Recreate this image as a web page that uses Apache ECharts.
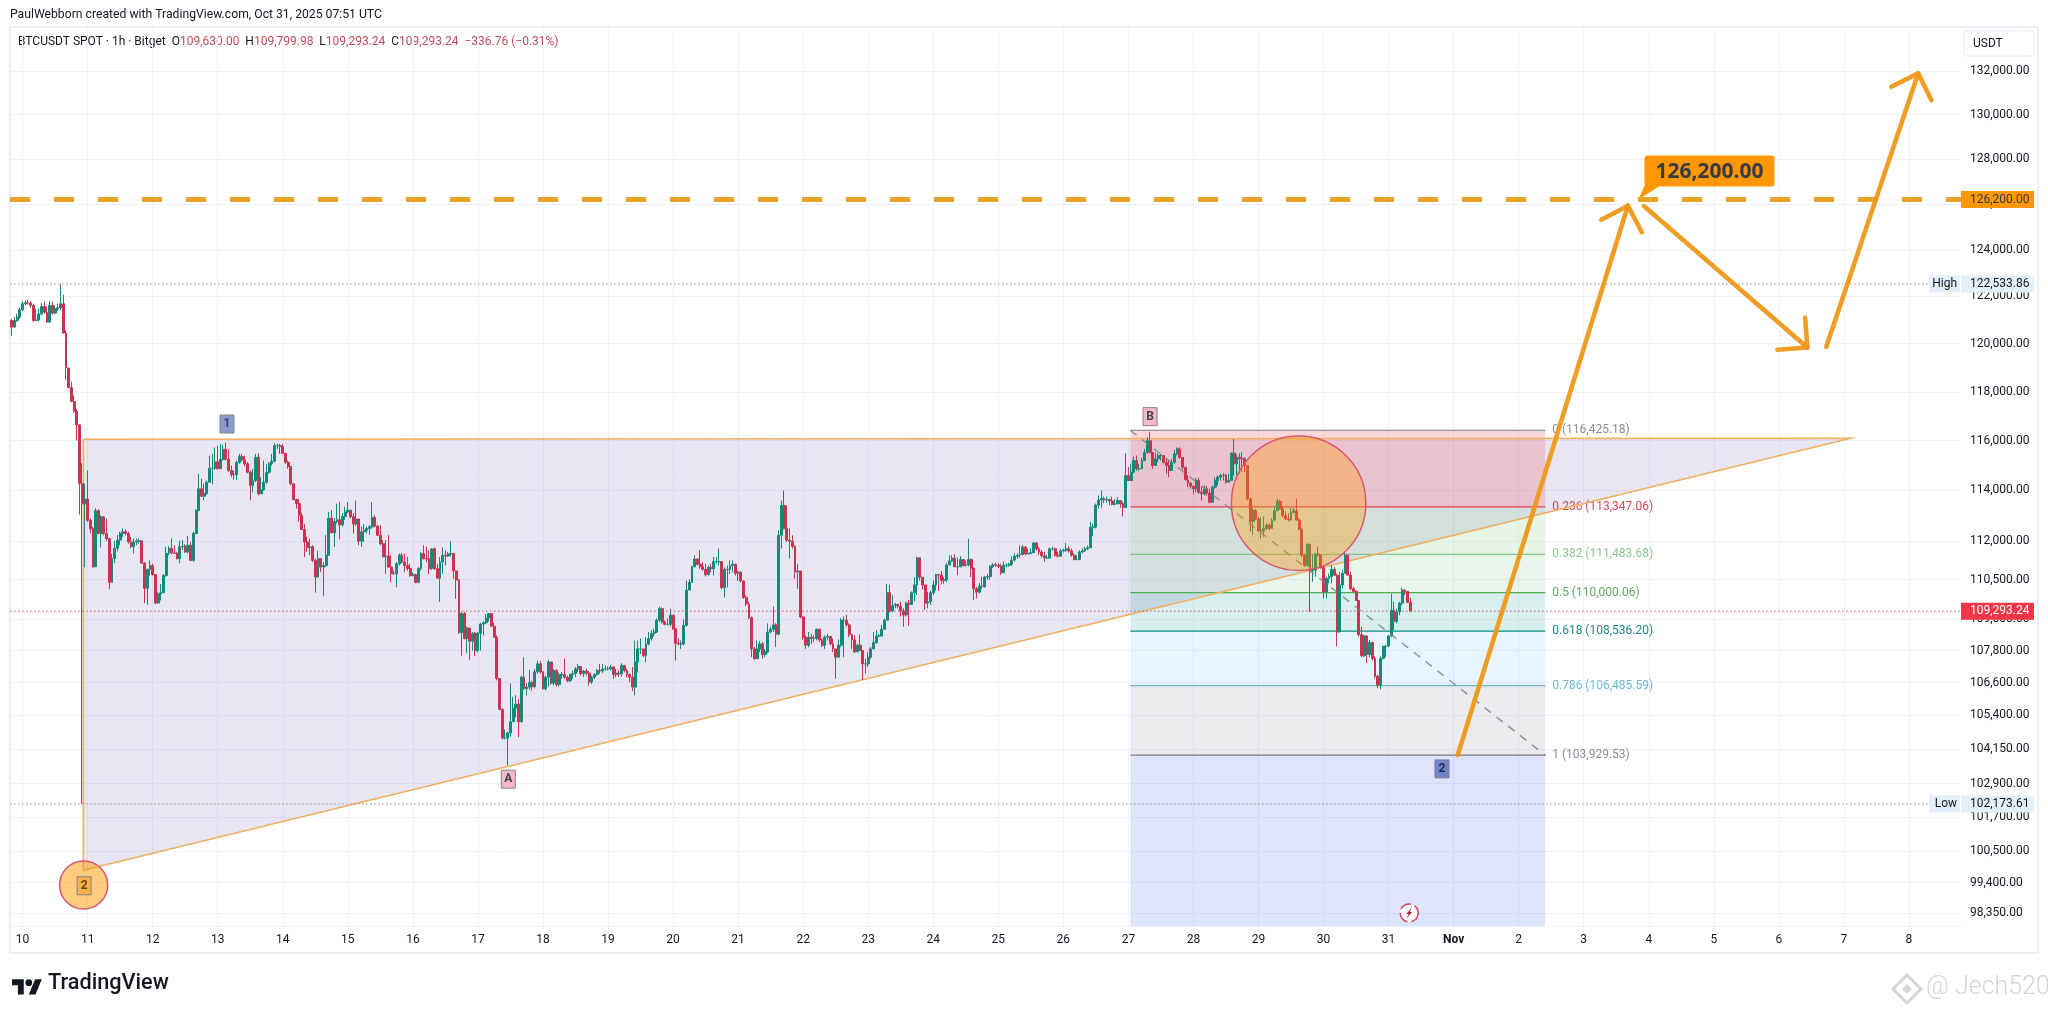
<!DOCTYPE html>
<html><head><meta charset="utf-8">
<style>html,body{margin:0;padding:0;background:#fff}#c{width:2048px;height:1014px}</style>
<script src="https://cdn.jsdelivr.net/npm/echarts@6/dist/echarts.min.js"></script>
</head><body><div id="c"></div>
<script>
// hourly candles; hour 0 = Oct 10 00:00, first candle = hour -4. Prices in thousand USDT.
const firstHour = -4;
const firstOpen = 120.98;
const closes = [
120.70,120.98,121.12,121.43,121.69,121.73,121.72,121.62,120.98,121.00,121.26,121.57,121.33,120.91,121.62,121.29,121.48,121.52,121.69,120.45,
118.99,118.18,117.60,117.19,116.65,114.27,113.47,113.66,112.82,112.49,111.00,113.20,112.30,112.95,112.30,112.10,110.40,111.32,111.72,112.04,
112.30,112.37,112.30,111.97,111.78,111.97,112.01,112.01,111.14,110.17,110.90,111.05,110.70,109.60,109.95,110.00,110.66,111.52,111.72,111.54,
111.52,111.32,111.78,111.80,111.58,111.84,111.25,112.30,113.20,114.07,113.77,113.88,114.33,114.89,114.89,115.15,114.87,115.25,115.65,115.25,
114.80,114.63,114.63,115.12,115.36,115.23,115.07,114.73,114.20,114.40,115.33,113.87,114.03,114.33,114.73,115.07,115.17,115.80,115.80,115.76,
115.49,115.13,114.96,114.27,113.64,113.48,113.02,112.46,111.97,111.75,111.78,111.25,110.60,111.32,110.99,111.05,111.45,112.90,112.33,112.77,
112.84,112.64,112.97,113.15,113.22,112.96,112.67,112.87,112.00,112.37,112.43,112.50,112.56,112.93,112.59,112.23,111.90,111.39,111.42,110.99,
110.73,110.73,111.12,111.45,111.19,111.05,110.93,110.66,110.70,110.40,110.93,111.52,111.32,111.30,110.93,111.70,110.93,110.56,111.19,111.45,
111.42,111.50,111.52,110.84,110.49,108.47,109.20,108.25,108.65,108.15,108.45,107.80,108.45,108.80,108.85,109.03,109.20,108.72,108.30,106.75,
105.60,104.55,104.55,104.74,105.15,105.65,105.80,105.15,106.80,106.37,106.43,106.60,106.45,107.00,107.30,107.00,106.37,106.80,107.37,106.58,
107.05,106.53,106.90,106.90,106.80,106.67,106.90,106.93,107.11,107.20,106.93,107.03,106.95,106.62,106.80,106.90,107.05,107.03,107.11,107.11,
107.11,107.18,106.90,106.95,106.92,107.24,107.05,106.90,106.80,106.43,107.37,107.86,107.86,107.60,108.05,108.25,108.45,108.50,108.95,109.39,
108.88,108.79,108.79,109.14,108.62,108.07,108.05,108.05,108.75,110.10,110.40,111.00,111.30,111.10,111.00,110.90,110.70,110.98,110.92,111.20,
111.20,111.20,110.20,110.90,110.90,111.05,111.10,110.75,110.79,110.45,109.82,109.57,109.05,107.86,107.49,107.86,108.05,107.65,107.74,108.50,
108.60,108.77,108.42,112.23,113.41,112.50,112.04,112.00,111.80,110.80,110.84,109.07,108.30,108.00,108.30,108.25,108.25,108.60,108.20,108.00,
108.30,108.33,108.05,107.86,107.55,108.00,108.95,108.95,108.77,108.40,108.20,107.75,108.00,107.80,107.30,107.30,107.55,107.86,108.10,108.35,
108.35,108.60,108.95,110.00,109.30,109.50,109.55,109.48,109.30,109.15,109.60,109.55,110.00,110.30,111.35,110.60,110.30,109.60,109.65,110.00,
110.30,110.70,110.68,110.47,110.50,111.07,111.23,111.33,111.00,111.00,111.28,111.05,111.07,111.28,110.95,110.15,110.02,110.25,110.23,110.60,
110.62,111.00,111.08,111.06,111.02,110.77,111.06,111.06,111.10,111.26,111.41,111.45,111.48,111.77,111.50,111.52,111.55,111.93,111.70,111.57,
111.43,111.34,111.34,111.70,111.70,111.45,111.41,111.62,111.65,111.70,111.62,111.45,111.28,111.28,111.58,111.62,111.70,111.74,112.55,112.55,
113.42,113.62,113.68,113.62,113.64,113.58,113.45,113.47,113.60,113.47,113.32,114.60,114.40,114.73,115.20,114.87,114.87,115.20,115.53,116.00,
115.53,115.00,115.27,115.40,115.40,115.13,115.00,114.80,115.13,115.47,115.67,115.33,114.93,114.43,114.30,114.17,114.07,114.40,113.93,113.87,
114.07,113.90,113.53,114.13,114.40,114.53,114.60,114.60,114.33,114.40,115.50,115.07,115.33,115.27,115.27,115.00,113.67,112.77,113.20,112.87,
112.40,112.40,112.50,112.63,112.50,112.83,113.20,113.57,113.27,113.00,112.87,112.84,113.13,113.20,112.83,112.47,111.45,111.05,111.88,110.85,
110.87,111.50,111.45,110.97,110.03,110.55,110.62,110.90,110.67,108.50,110.30,110.75,111.45,110.68,110.15,110.05,109.70,108.40,107.60,108.35,
107.65,108.10,107.50,106.83,106.50,107.50,107.95,107.97,108.35,109.33,108.90,109.27,109.60,110.10,110.05,109.63,109.29324];
const highs = [
121.05,121.12,121.26,121.52,121.80,121.83,121.86,121.80,121.69,121.48,121.48,121.72,121.80,121.55,121.80,121.76,121.62,121.69,122.53386,122.08,
120.58,118.90,118.42,117.85,117.30,116.63,115.09,114.27,114.80,112.89,112.56,113.30,113.26,113.02,112.98,112.89,112.10,111.50,112.00,112.24,
112.37,112.50,112.47,112.37,112.17,112.10,112.10,112.10,112.04,111.18,110.93,111.25,111.12,110.70,110.02,110.33,110.72,111.78,111.80,112.10,
111.84,111.58,112.01,112.04,111.88,112.20,111.97,112.37,113.26,114.67,114.47,114.27,114.40,115.40,115.47,115.73,115.80,115.87,115.84,115.93,
115.65,115.00,114.80,115.20,115.47,115.47,115.40,115.13,114.80,114.87,115.47,115.49,114.53,115.20,115.07,115.13,115.47,115.90,115.87,115.87,
115.87,115.49,115.20,114.96,114.27,113.67,113.67,113.12,112.67,112.17,112.10,111.84,111.32,111.63,111.32,111.18,112.24,113.15,113.22,112.90,
113.48,113.54,113.10,113.35,113.54,113.22,113.10,113.60,112.87,112.57,112.67,112.57,112.64,113.54,113.02,112.64,112.64,112.04,112.04,112.24,
111.45,110.85,111.18,111.52,111.54,111.52,111.38,111.12,110.79,110.73,110.99,111.58,111.84,111.78,111.64,111.71,111.75,111.12,111.38,111.75,
111.64,111.58,112.00,111.54,110.85,110.53,109.27,109.27,108.70,108.62,108.50,108.50,108.50,108.85,108.92,109.18,109.23,109.20,108.85,108.37,
106.74,105.65,104.87,104.78,106.57,106.07,106.13,106.00,106.86,107.55,106.57,107.07,106.67,107.11,107.42,107.40,107.03,106.86,107.45,107.27,
107.11,107.11,106.98,106.98,107.49,106.86,106.93,107.05,107.18,107.30,107.21,107.07,107.11,107.03,106.86,106.95,107.11,107.30,107.30,107.24,
107.20,107.27,107.21,107.11,107.05,107.32,107.24,107.11,106.93,107.18,108.18,108.18,108.25,107.86,108.31,108.50,108.56,108.62,109.01,109.46,
109.43,108.94,109.01,109.39,109.14,108.62,108.25,108.18,108.98,110.46,110.52,111.05,111.45,111.32,111.65,111.18,111.12,111.05,111.12,111.38,
111.38,111.71,111.18,110.98,111.05,111.25,111.25,111.12,110.85,110.82,110.46,109.90,109.65,109.09,107.93,108.18,108.16,108.12,107.86,108.83,
108.70,109.47,108.83,112.43,113.60,114.00,113.41,112.50,112.23,111.84,111.12,110.84,109.09,108.37,108.50,108.43,108.37,108.63,108.63,108.25,
108.37,108.43,108.34,108.25,107.86,108.21,109.02,109.09,109.15,108.83,108.43,108.37,108.05,108.41,107.74,107.49,107.74,107.93,108.50,108.57,
108.43,108.77,109.02,110.34,110.30,109.91,109.60,109.58,109.66,109.40,109.66,109.72,110.05,110.60,111.40,111.28,110.60,110.21,110.02,110.08,
110.47,110.73,110.72,110.84,110.60,111.15,111.45,111.45,111.49,111.36,111.41,111.25,111.25,112.10,111.32,110.95,110.23,110.38,110.62,110.65,
110.73,111.07,111.14,111.16,111.14,111.11,111.20,111.14,111.16,111.41,111.52,111.52,111.83,111.85,111.80,111.71,111.71,111.97,111.95,111.78,
111.65,111.58,111.45,111.75,111.78,111.75,111.58,111.71,111.71,111.93,111.80,111.71,111.52,111.45,111.65,111.71,111.78,111.84,112.76,112.69,
113.48,113.80,114.00,113.76,113.76,113.67,113.76,113.67,113.74,113.60,113.54,115.49,114.93,115.07,115.36,115.40,115.07,115.31,115.67,116.13,
116.37,115.53,115.53,115.49,115.47,115.40,115.27,115.20,115.27,115.63,115.73,115.73,115.33,114.93,114.60,114.33,114.20,114.51,114.51,114.15,
114.20,114.18,114.07,114.20,114.53,114.60,114.67,114.69,114.67,114.67,115.53,116.07,115.44,115.49,115.53,115.33,115.00,113.72,113.30,113.27,
112.97,112.94,112.97,112.70,112.70,112.90,113.37,113.67,113.63,113.37,113.17,113.10,113.31,113.31,113.67,112.90,112.50,111.52,111.93,111.88,
111.49,111.52,111.78,111.49,111.06,110.62,110.74,111.06,110.99,110.74,110.81,110.87,111.58,111.42,110.81,110.23,110.10,109.72,108.70,108.39,
108.33,108.20,108.14,107.58,106.89,107.58,107.98,108.00,108.39,109.97,109.65,109.39,109.65,110.20,110.13,109.97,109.79998];
const lows = [
120.34,120.67,120.91,121.05,121.38,121.62,121.65,121.52,120.91,120.95,120.95,121.20,121.26,120.88,120.88,121.23,121.26,121.38,121.41,120.43,
118.50,118.15,117.58,117.15,116.00,113.05,102.17361,110.98,112.76,112.30,110.97,111.00,112.27,111.75,112.23,112.01,110.14,110.70,111.14,111.60,
111.84,112.17,112.23,111.90,111.72,111.52,111.84,111.90,111.11,109.60,109.54,110.66,110.66,109.56,109.58,109.70,110.00,110.62,111.45,111.48,
111.50,111.28,111.14,111.66,111.54,111.52,111.22,111.20,112.27,113.18,113.74,113.61,113.84,114.30,114.25,114.82,114.84,114.87,115.20,115.20,
114.73,114.53,114.43,114.43,115.07,115.17,114.97,114.69,113.61,113.93,114.33,113.80,113.97,114.00,114.27,114.67,115.00,115.13,115.67,115.47,
115.47,115.07,114.87,114.20,113.61,113.28,112.76,112.43,111.38,111.58,111.45,111.18,110.00,110.60,110.79,109.87,110.99,111.45,112.30,111.78,
112.70,112.07,112.57,112.84,113.10,112.90,112.30,112.60,111.84,111.78,111.97,112.30,112.24,112.50,112.54,112.20,111.84,111.36,110.73,110.96,
110.40,110.70,110.21,111.05,111.14,110.79,110.85,110.62,110.63,110.36,110.36,110.85,111.28,111.18,110.73,110.88,110.88,110.53,109.65,110.73,
111.05,111.38,111.40,110.53,109.77,108.43,107.60,108.22,107.70,107.45,107.80,107.60,107.73,107.80,108.37,108.80,108.89,108.70,108.30,106.68,
105.58,104.50,104.50,103.56,104.60,105.34,105.31,104.58,105.12,106.33,106.12,106.33,106.30,106.37,106.93,106.93,106.33,106.30,106.45,106.52,
106.49,106.45,106.45,106.74,106.74,106.61,106.61,106.74,106.80,106.98,106.86,106.80,106.86,106.49,106.55,106.74,106.86,106.93,106.95,107.03,
107.05,107.05,106.74,106.80,106.80,106.82,106.98,106.80,106.61,106.28,106.12,106.98,107.67,107.55,107.36,107.99,108.18,108.33,108.46,108.88,
108.82,108.75,108.75,108.71,108.58,107.42,107.99,107.86,107.99,108.71,110.14,110.40,110.98,111.05,110.92,110.85,110.62,110.66,110.79,110.66,
111.12,111.05,110.14,109.82,110.20,110.72,110.79,110.66,110.46,110.40,109.76,109.48,108.98,107.55,107.45,107.49,107.74,107.49,107.55,107.70,
108.45,108.50,107.93,108.37,111.71,112.46,111.97,111.32,111.71,110.54,110.15,109.02,108.21,107.86,107.93,108.05,108.12,108.18,108.12,107.93,
107.86,108.18,108.00,107.74,106.74,107.55,107.93,107.55,108.70,108.31,107.86,107.70,107.74,107.78,106.70,106.93,107.18,107.49,107.86,108.05,
108.31,108.34,108.60,109.28,109.24,109.24,109.40,109.40,109.09,108.70,109.09,108.73,109.53,109.66,109.91,110.47,110.12,109.34,109.40,109.53,
109.91,110.08,110.08,110.32,110.34,110.41,111.06,111.19,110.99,110.67,111.02,111.02,111.02,111.02,110.60,109.72,109.78,109.97,110.15,110.19,
110.50,110.50,110.95,111.00,110.95,110.68,110.75,110.98,111.00,111.03,111.20,111.32,111.36,111.45,111.45,111.49,111.52,111.55,111.62,111.45,
111.36,111.20,111.32,111.32,111.62,111.39,111.36,111.39,111.55,111.58,111.55,111.39,111.26,111.26,111.26,111.52,111.58,111.65,111.75,112.20,
112.50,113.28,113.32,113.50,113.50,113.41,113.41,113.41,113.45,113.32,112.97,113.32,114.37,114.40,114.69,114.80,114.80,114.87,115.17,115.47,
115.49,114.87,115.00,115.13,115.20,115.07,114.67,114.53,114.80,115.07,115.40,115.27,114.83,114.40,114.13,114.07,113.84,113.93,113.87,113.60,
113.80,113.80,113.50,113.60,114.07,114.20,114.40,114.40,114.27,114.33,114.40,114.60,114.60,114.67,114.73,114.73,113.60,112.37,112.24,112.84,
112.37,112.10,112.17,112.43,112.43,112.50,112.77,113.25,113.25,112.94,112.84,112.77,112.80,113.10,112.80,112.43,111.38,110.99,111.00,109.27,
110.42,110.62,111.41,110.93,109.78,109.78,110.36,110.36,110.65,107.95,108.50,110.17,110.74,110.66,110.10,110.03,109.69,108.32,107.55,107.55,
107.33,107.55,107.42,106.76,106.39,106.35,107.46,107.55,107.93,108.30,108.58,108.83,109.14,109.52,109.90,109.60,109.29324];

const yTicks = [132000,130000,128000,126000,124000,122000,120000,118000,116000,114000,112000,110500,109000,107800,106600,105400,104150,102900,101700,100500,99400,98350];
const dayHours = [0,24,48,72,96,120,144,168,192,216,240,264,288,312,336,360,384,408,432,456,480,504,528,552,576,600,624,648,672,696];
const dayLabels = ['10','11','12','13','14','15','16','17','18','19','20','21','22','23','24','25','26','27','28','29','30','31','Nov','2','3','4','5','6','7','8'];
const xMin = -4.65, xMax = 715.2, yMin = 97905, yMax = 134046;

const triangle = [[22.4,116060],[674.4,116100],[22.4,99830]];
const fibX = [408.7,561.8];
const fibValues = [116425.18,113347.06,111483.68,110000.06,108536.20,106485.59,103929.53];
const fibRatios = ['0','0.236','0.382','0.5','0.618','0.786','1'];
const fibLineColors = ['#787b86','#e5404f','#81c784','#4caf50','#0b8a7c','#64b5c9','#787b86'];
const fibTextColors = ['#8a8d97','#d0465a','#8cc494','#5da864','#1b8a82','#6db9d2','#8a8d97'];
const fibFills = ['rgba(242,54,69,0.2)','rgba(129,199,132,0.2)','rgba(76,175,80,0.12)','rgba(0,150,136,0.15)','rgba(100,181,246,0.15)','rgba(120,123,134,0.15)','rgba(41,90,230,0.16)'];
const fibDiagonal = [[408.7,116425],[561.8,103929]];
const bigCircle = [[446,116150],[495.6,110900]];
const smallCircle = [[13.65,100150],[31.4,98490]];
const marks = [
  {t:'1',h:75.4,p:116680,fill:'#8b9ad0',ink:'#2c4a6e'},
  {t:'A',h:179.2,p:103060,fill:'#f5b9c9',ink:'#444'},
  {t:'B',h:416,p:116980,fill:'#f5b9c9',ink:'#444'},
  {t:'2',h:523.7,p:103430,fill:'#7183c9',ink:'#1d2c52'},
  {t:'2',h:22.7,p:99290,fill:'#f9ad45',ink:'#6b4310'}
];
const arrows = [
  [[529.5,103930],[592.3,125930]],
  [[598.2,125920],[658.5,119840]],
  [[665.5,119870],[699.4,131890]]
];
const targetPrice = 126200, highPrice = 122533.86, lowPrice = 102173.61, lastPrice = 109293.24;
const calloutAnchor = [596.2,126200];
const boltAt = [511.6,98350];

const fmt = v => v.toLocaleString('en-US',{minimumFractionDigits:2,maximumFractionDigits:2});
const FONT = 'Roboto, "Liberation Sans", sans-serif';

const candles = closes.map((c,i)=>{
  const o = i? closes[i-1] : firstOpen;
  const cl = c*1000, op = o*1000;
  return [firstHour+i, op, cl, Math.min(lows[i]*1000,op,cl), Math.max(highs[i]*1000,op,cl)];
});

function backLayer(params, api){
  const P = (h,p)=>api.coord([h,p]);
  const kids = [];
  kids.push({type:'polygon',shape:{points:triangle.map(a=>P(a[0],a[1]))},style:{fill:'rgba(92,80,170,0.14)'}});
  fibValues.forEach((v,i)=>{
    const a=P(fibX[0],v), b=P(fibX[1], i<fibValues.length-1?fibValues[i+1]:yMin);
    kids.push({type:'rect',shape:{x:a[0],y:a[1],width:b[0]-a[0],height:b[1]-a[1]},style:{fill:fibFills[i]}});
  });
  fibValues.forEach((v,i)=>{
    const a=P(fibX[0],v), b=P(fibX[1],v);
    kids.push({type:'polyline',shape:{points:[a,b]},style:{stroke:fibLineColors[i],lineWidth:1.2,fill:null}});
    kids.push({type:'text',style:{x:b[0]+7,y:b[1],text:fibRatios[i]+' ('+fmt(v)+')',fill:fibTextColors[i],font:'12px '+FONT,align:'left',verticalAlign:'middle'}});
  });
  kids.push({type:'polyline',shape:{points:triangle.concat([triangle[0]]).map(a=>P(a[0],a[1]))},style:{stroke:'#efb061',lineWidth:1.6,fill:null}});
  return {type:'group',children:kids};
}

function frontLayer(params, api){
  const P = (h,p)=>api.coord([h,p]);
  const kids = [];
  const left = P(xMin,yMin)[0], right = P(xMax,yMin)[0];
  const hline = (p,stroke,w,dash)=>{const y=P(xMin,p)[1];kids.push({type:'polyline',shape:{points:[[left,y],[right,y]]},style:{stroke,lineWidth:w,lineDash:dash,fill:null}});};
  hline(highPrice,'#8a8d97',1,[1.5,2.5]);
  hline(lowPrice,'#8a8d97',1,[1.5,2.5]);
  hline(lastPrice,'#c8505f',1,[1.5,2.5]);
  hline(targetPrice,'#e9a228',5,[20,24]);
  // fib diagonal
  const d0=P(fibDiagonal[0][0],fibDiagonal[0][1]), d1=P(fibDiagonal[1][0],fibDiagonal[1][1]);
  kids.push({type:'polyline',shape:{points:[d0,d1]},style:{stroke:'rgba(120,123,134,0.8)',lineWidth:1.4,lineDash:[8,7],fill:null}});
  // circles
  const ell=(c,fill)=>{const a=P(c[0][0],c[0][1]),b=P(c[1][0],c[1][1]);
    kids.push({type:'circle',shape:{cx:(a[0]+b[0])/2,cy:(a[1]+b[1])/2,r:Math.abs(b[0]-a[0])/2},style:{fill,stroke:'#d9566f',lineWidth:1.5}});};
  ell(bigCircle,'rgba(255,152,0,0.35)');
  ell(smallCircle,'rgba(255,152,0,0.5)');
  // arrows
  arrows.forEach(a=>{
    const s=P(a[0][0],a[0][1]), t=P(a[1][0],a[1][1]);
    const ang=Math.atan2(s[1]-t[1],s[0]-t[0]);
    const b1=[t[0]+30*Math.cos(ang+Math.PI/4),t[1]+30*Math.sin(ang+Math.PI/4)];
    const b2=[t[0]+30*Math.cos(ang-Math.PI/4),t[1]+30*Math.sin(ang-Math.PI/4)];
    const st={stroke:'rgba(238,152,24,0.95)',lineWidth:4.6,fill:null,lineCap:'round',lineJoin:'round'};
    kids.push({type:'polyline',shape:{points:[s,t]},style:st});
    kids.push({type:'polyline',shape:{points:[b1,t,b2]},style:st});
  });
  // marker boxes
  marks.forEach(m=>{
    const c=P(m.h,m.p), w=14, h=18;
    kids.push({type:'rect',shape:{x:c[0]-w/2,y:c[1]-h/2,width:w,height:h},style:{fill:m.fill,stroke:'#80838f',lineWidth:1}});
    kids.push({type:'text',style:{x:c[0],y:c[1],text:m.t,fill:m.ink,font:'bold 12px '+FONT,align:'center',verticalAlign:'middle'}});
  });
  // callout
  const q=P(calloutAnchor[0],calloutAnchor[1]);
  kids.push({type:'polygon',shape:{points:[[q[0],q[1]],[q[0]+6,q[1]-14],[q[0]+22,q[1]-14]]},style:{fill:'#ff9800'}});
  kids.push({type:'rect',shape:{x:q[0]+6,y:q[1]-44,width:130,height:31,r:3},style:{fill:'#ff9800'}});
  kids.push({type:'text',style:{x:q[0]+71,y:q[1]-28,text:fmt(targetPrice),fill:'#363a45',font:'bold 21px "Noto Sans", sans-serif',align:'center',verticalAlign:'middle'}});
  // price badges
  const badge=(p,bg,ink,name)=>{
    const y=P(xMax,p)[1];
    kids.push({type:'rect',shape:{x:right,y:y-8.5,width:73,height:17},style:{fill:bg}});
    kids.push({type:'text',style:{x:right+9,y:y,text:fmt(p),fill:ink,font:'12px '+FONT,align:'left',verticalAlign:'middle'}});
    if(name){
      kids.push({type:'rect',shape:{x:right-32,y:y-8.5,width:31,height:17},style:{fill:bg}});
      kids.push({type:'text',style:{x:right-4,y:y,text:name,fill:'#131722',font:'12px '+FONT,align:'right',verticalAlign:'middle'}});
    }
  };
  badge(targetPrice,'#ff9800','#363a45');
  badge(highPrice,'#e3effd','#131722','High');
  badge(lowPrice,'#e3effd','#131722','Low');
  badge(lastPrice,'#f23645','#ffffff');
  // lightning icon
  const b=P(boltAt[0],boltAt[1]);
  kids.push({type:'circle',shape:{cx:b[0],cy:b[1],r:9},style:{fill:'#fff',stroke:'#d8404f',lineWidth:1.5,lineDash:[12,4]}});
  kids.push({type:'polygon',shape:{points:[[b[0]+3,b[1]-6],[b[0]-3,b[1]+1],[b[0]-0.5,b[1]+1],[b[0]-3,b[1]+6],[b[0]+3,b[1]-1],[b[0]+0.5,b[1]-1]]},style:{fill:'#a8283a'}});
  return {type:'group',children:kids};
}

const chart = echarts.init(document.getElementById('c'),null,{renderer:'canvas'});
const grid = '#f0f3fa';
chart.setOption({
  animation:false,
  backgroundColor:'#fff',
  grid:{left:10,right:87,top:27,bottom:88,containLabel:false},
  xAxis:{type:'value',min:xMin,max:xMax,
    axisLine:{show:true,lineStyle:{color:grid}},
    axisTick:{show:false,customValues:dayHours},
    splitLine:{show:true,lineStyle:{color:grid,width:1}},
    axisLabel:{customValues:dayHours,margin:8,color:'#131722',fontFamily:FONT,fontSize:12,
      formatter:v=>{const s=dayLabels[dayHours.indexOf(v)];return s==='Nov'?'{b|Nov}':s;},
      rich:{b:{fontWeight:'bold',fontFamily:FONT,fontSize:12,color:'#131722'}}}},
  yAxis:{type:'log',logBase:10,min:yMin,max:yMax,position:'right',
    axisLine:{show:true,lineStyle:{color:grid}},
    axisTick:{show:false,customValues:yTicks},
    minorTick:{show:false},minorSplitLine:{show:false},
    splitLine:{show:true,lineStyle:{color:grid,width:1}},
    axisLabel:{customValues:yTicks,margin:9,align:'left',color:'#131722',fontFamily:FONT,fontSize:12,
      formatter:v=>fmt(Math.round(v))}},
  graphic:[
    {type:'rect',z:-1,silent:true,shape:{x:10,y:27,width:2028,height:926},style:{fill:'none',stroke:'#eceef3',lineWidth:2}},
    {type:'text',x:10,y:15,style:{text:'PaulWebborn created with TradingView.com, Oct 31, 2025 07:51 UTC',fill:'#131722',font:'12.2px '+FONT,verticalAlign:'middle'}},
    {type:'text',x:18,y:41.5,style:{
      text:'{d|BTCUSDT SPOT · 1h · Bitget  O}{r|'+fmt(109630)+'}{d|  H}{r|'+fmt(109799.98)+'}{d|  L}{r|'+fmt(lastPrice)+'}{d|  C}{r|'+fmt(lastPrice)+'}{r|  −336.76 (−0.31%)}',
      verticalAlign:'middle',
      rich:{d:{fill:'#131722',font:'12px '+FONT},r:{fill:'#c4495c',font:'12px '+FONT}}}},
    {type:'group',x:1964,y:31,children:[
      {type:'rect',shape:{x:0,y:0,width:70,height:25,r:3},style:{fill:'#fff',stroke:'#e8eaf0',lineWidth:1}},
      {type:'text',x:9,y:13,style:{text:'USDT',fill:'#131722',font:'12px '+FONT,verticalAlign:'middle'}}]},
    {type:'group',x:12,y:976,scaleX:0.84,scaleY:0.84,children:[
      {type:'polygon',shape:{points:[[0,4],[14,4],[14,22],[7,22],[7,11],[0,11]]},style:{fill:'#131722'}},
      {type:'polygon',shape:{points:[[27.5,4],[35.5,4],[28,22],[20,22]]},style:{fill:'#131722'}},
      {type:'circle',shape:{cx:20,cy:8,r:4},style:{fill:'#131722'}}]},
    {type:'text',x:48,y:984,style:{text:'TradingView',fill:'#131722',font:'500 21.7px '+FONT,verticalAlign:'middle'}},
    {type:'polygon',shape:{points:[[1893,989],[1907,975],[1921,989],[1907,1003]]},style:{fill:'none',stroke:'#d6d6d6',lineWidth:3}},
    {type:'polygon',shape:{points:[[1902,989],[1907,984],[1912,989],[1907,994]]},style:{fill:'#d6d6d6'}},
    {type:'text',x:1926,y:988,style:{text:'@ Jech520',fill:'#d4d4d4',font:'300 25px '+FONT,verticalAlign:'middle'}}
  ],
  series:[
    {type:'custom',name:'back',z:2,silent:true,renderItem:backLayer,data:[[100,110000]],clip:false},
    {type:'candlestick',name:'BTCUSDT',z:5,silent:true,barWidth:2.4,data:candles,
      itemStyle:{color:'#16897b',color0:'#c93450',borderColor:'#16897b',borderColor0:'#c93450',borderWidth:1}},
    {type:'custom',name:'front',z:10,silent:true,renderItem:frontLayer,data:[[100,110000]],clip:false}
  ]
});
</script></body></html>
